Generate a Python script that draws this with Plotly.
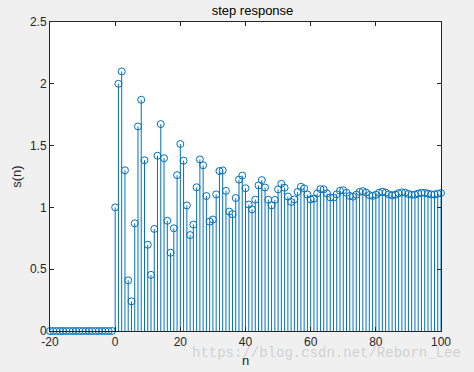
import plotly.graph_objects as go

# time index
n_values = list(range(-20, 101))
# step response samples s(n), n = -20..100
s_values = [0.0] * 20 + [
    1.000, 2.000, 2.100, 1.300, 0.410, 0.240, 0.871, 1.655, 1.871, 1.382,
    0.698, 0.454, 0.826, 1.418, 1.674, 1.398, 0.892, 0.633, 0.831, 1.261,
    1.513, 1.378, 1.016, 0.776, 0.861, 1.163, 1.388, 1.341, 1.092, 0.885,
    0.902, 1.105, 1.294, 1.299, 1.134, 0.966, 0.945, 1.076, 1.225, 1.257,
    1.155, 1.023, 0.984, 1.063, 1.178, 1.221, 1.161, 1.062, 1.017, 1.061,
    1.146, 1.191, 1.159, 1.088, 1.044, 1.065, 1.125, 1.167, 1.154, 1.104,
    1.065, 1.072, 1.113, 1.148, 1.146, 1.113, 1.081, 1.079, 1.106, 1.135,
    1.139, 1.118, 1.093, 1.087, 1.103, 1.125, 1.132, 1.120, 1.100, 1.093,
    1.102, 1.119, 1.127, 1.120, 1.106, 1.098, 1.103, 1.115, 1.122, 1.119,
    1.109, 1.102, 1.104, 1.112, 1.119, 1.118, 1.111, 1.105, 1.105, 1.111,
    1.116,
]
x_ticks = [-20, 0, 20, 40, 60, 80, 100]
x_tick_labels = ["-20", "0", "20", "40", "60", "80", "100"]
y_ticks = [0, 0.5, 1, 1.5, 2, 2.5]
y_tick_labels = ["0", "0.5", "1", "1.5", "2", "2.5"]

color = "#0072BD"

# stems
sx, sy = [], []
for xv, yv in zip(n_values, s_values):
    sx += [xv, xv, None]
    sy += [0, yv, None]

fig = go.Figure()
fig.add_trace(go.Scatter(x=sx, y=sy, mode="lines",
                         line=dict(color=color, width=1), hoverinfo="skip",
                         showlegend=False))
fig.add_trace(go.Scatter(x=n_values, y=s_values, mode="markers", cliponaxis=False,
                         marker=dict(symbol="circle-open", size=7, color=color,
                                     line=dict(width=1, color=color)),
                         showlegend=False))

axis_common = dict(showgrid=False, zeroline=False, showline=True, linecolor="#262626",
                   linewidth=1, mirror="ticks", ticks="inside", ticklen=4,
                   tickcolor="#262626", automargin=False,
                   tickfont=dict(family="Liberation Sans, Arial", size=12, color="#262626"))

fig.update_layout(
    width=474, height=372,
    paper_bgcolor="#f0f0f0", plot_bgcolor="white",
    margin=dict(l=50, r=33, t=22, b=41, autoexpand=False),
    title=dict(text="step response", x=(50 + 441) / 2 / 474, xanchor="center", xref="paper",
               y=1 - 10 / 372, yanchor="middle",
               font=dict(family="Liberation Sans, Arial", size=13, color="#000000")),
    xaxis=dict(range=[-20, 100], tickvals=x_ticks, ticktext=x_tick_labels,
               title=dict(text="n", standoff=7,
                          font=dict(family="Liberation Sans, Arial", size=13, color="#262626")),
               **axis_common),
    yaxis=dict(range=[0, 2.5], tickvals=y_ticks, ticktext=y_tick_labels,
               title=dict(text="s(n)", standoff=5,
                          font=dict(family="Liberation Sans, Arial", size=13, color="#262626")),
               **axis_common),
    annotations=[dict(text="https://blog.csdn.net/Reborn_Lee", xref="paper", yref="paper",
                      x=(463 - 50) / 391, y=-(353 - 331) / 309, xanchor="right", yanchor="middle",
                      showarrow=False,
                      font=dict(family="Liberation Mono, DejaVu Sans Mono", size=14,
                                color="rgba(200,200,200,0.8)"))],
)

fig.write_html("out.html", config={"displayModeBar": False},
               post_script="document.body.style.margin='0';document.body.style.background='#f0f0f0';")
